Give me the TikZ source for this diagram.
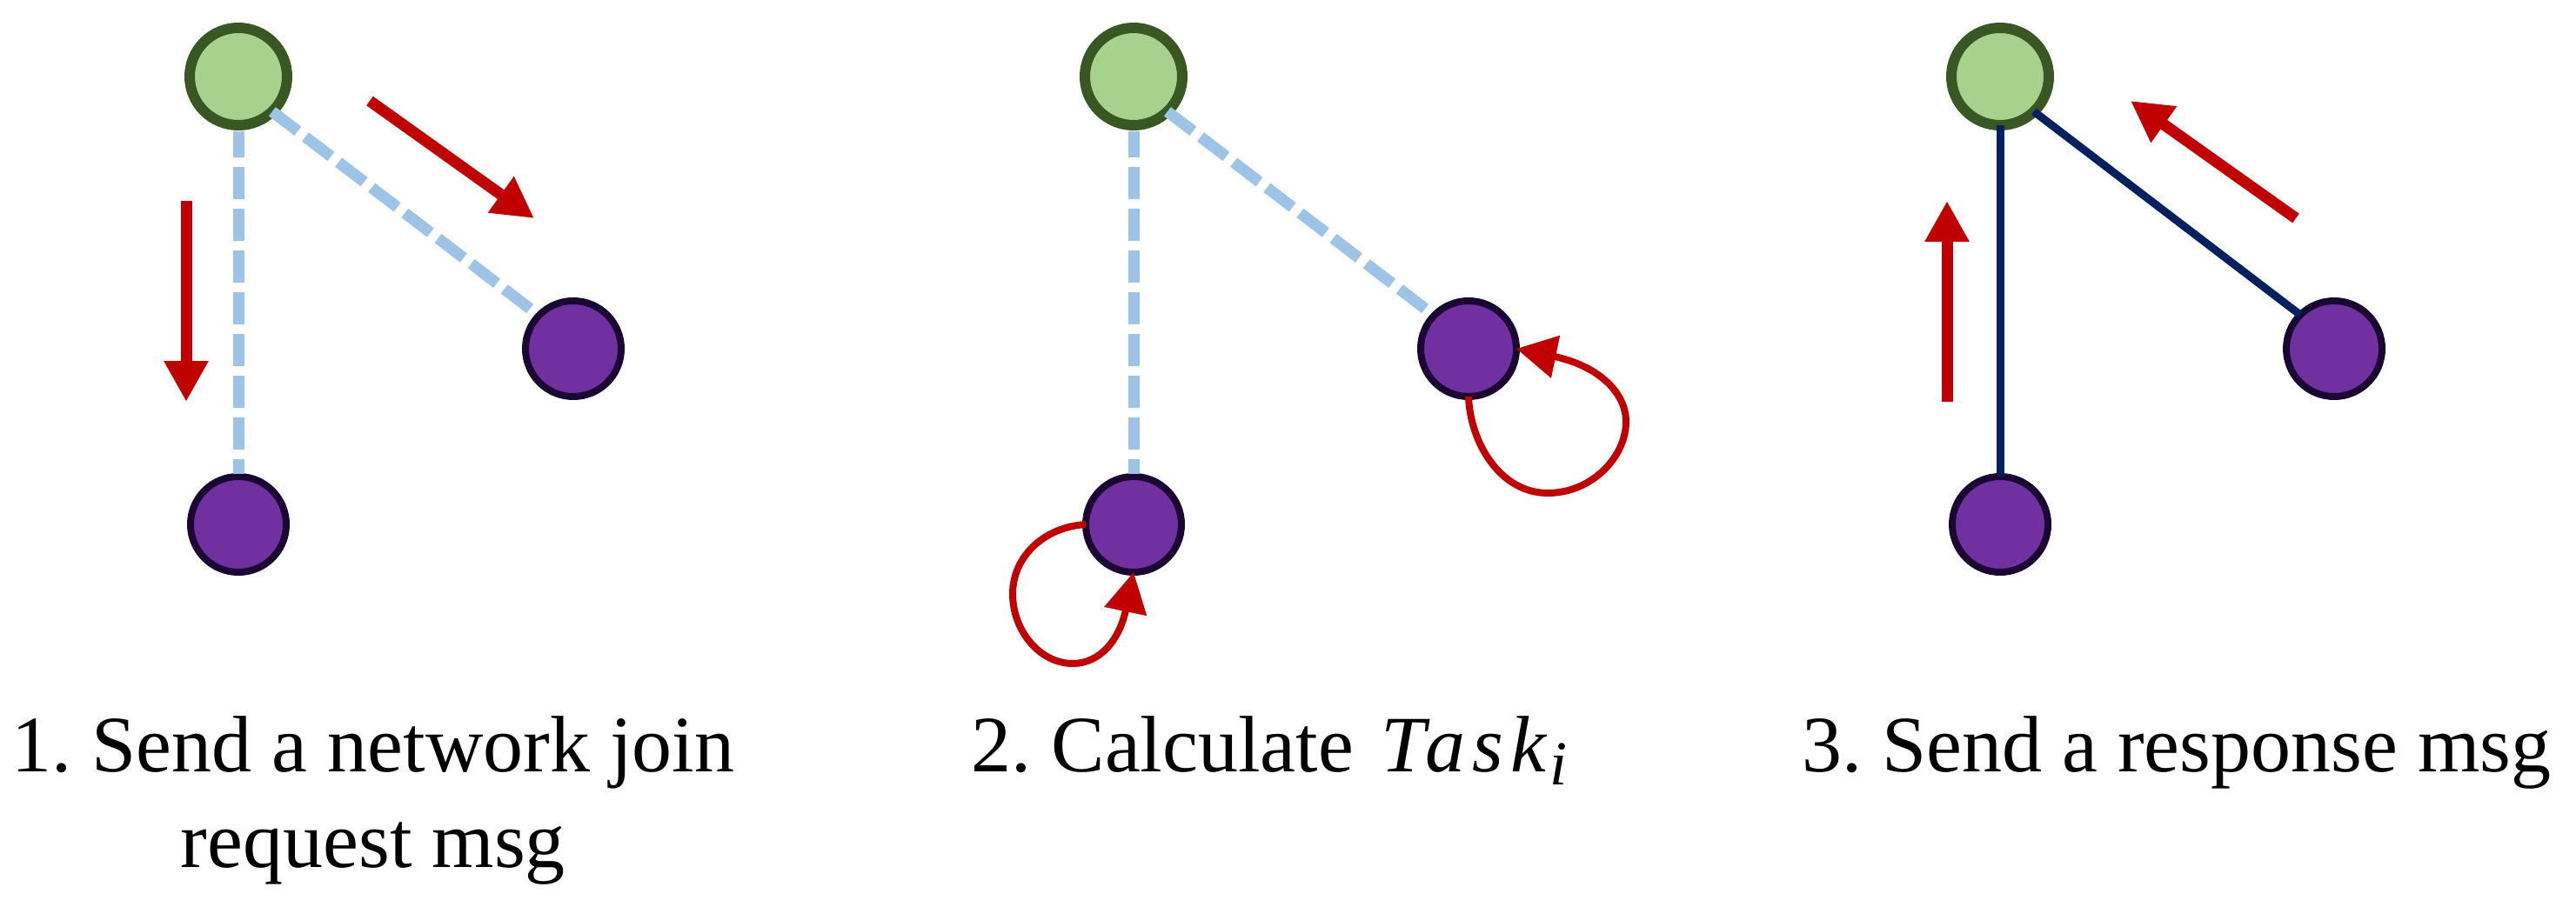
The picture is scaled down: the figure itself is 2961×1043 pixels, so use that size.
\documentclass[tikz,border=0pt]{standalone}
\usepackage{fontspec}
\setmainfont{Liberation Serif}
\usetikzlibrary{arrows.meta}
\definecolor{gfill}{HTML}{A9D18E}
\definecolor{gline}{HTML}{385723}
\definecolor{pfill}{HTML}{7030A0}
\definecolor{pline}{HTML}{1B0533}
\definecolor{dashc}{HTML}{9DC3E6}
\definecolor{redc}{HTML}{C00000}
\definecolor{navyc}{HTML}{002060}
\tikzset{
  master/.style={circle,draw=gline,fill=gfill,line width=6pt,minimum size=56pt,inner sep=0pt,outer sep=0pt},
  worker/.style={circle,draw=pline,fill=pfill,line width=4pt,minimum size=55pt,inner sep=0pt,outer sep=0pt},
  dashv/.style={draw=dashc,line width=6.5pt,dash pattern=on 18.5pt off 5.5pt,dash phase=3.5pt,shorten <=3.5pt,shorten >=1.5pt},
  dashd/.style={draw=dashc,line width=6.5pt,dash pattern=on 18.5pt off 5.5pt,shorten >=5pt},
  solidl/.style={draw=navyc,line width=4.5pt},
  flow/.style={draw=redc,line width=6.5pt,-{Triangle[width=24pt,length=23.5pt]}},
  loopa/.style={draw=redc,line width=4pt,-{Triangle[width=24pt,length=23pt]}},
  captext/.style={font=\fontsize{46}{55}\selectfont\frenchspacing,inner sep=0pt,outer sep=0pt,anchor=base,align=center}
}
\begin{document}
\begin{tikzpicture}[x=0.5pt,y=-0.5pt]
\useasboundingbox[fill=white] (0,0) rectangle (2961,1043);
% panel 1
\node[master] (g1) at (274,88) {};
\node[worker] (b1) at (274,603) {};
\node[worker] (r1) at (659,401) {};
\draw[dashv] (g1.south) -- (b1.north);
\draw[dashd] (g1.-46) -- (r1.136);
\coordinate (a1s) at (214,231); \coordinate (a1e) at (214,462);
\coordinate (a2s) at (425,116); \coordinate (a2e) at (614,251);
\draw[flow] (a1s) -- (a1e);
\draw[flow] (a2s) -- (a2e);
% panel 2
\node[master] (g2) at (1303,88) {};
\node[worker] (b2) at (1303,603) {};
\node[worker] (r2) at (1688,401) {};
\draw[dashv] (g2.south) -- (b2.north);
\draw[dashd] (g2.-46) -- (r2.136);
\draw[loopa] (b2.west) .. controls (1200,606) and (1164,640) .. (1164,683)
  .. controls (1164,725) and (1195,763) .. (1233,763)
  .. controls (1265,763) and (1287,735) .. (b2.south);
\draw[loopa] (r2.south) .. controls (1690,510) and (1725,567) .. (1779,567)
  .. controls (1830,567) and (1869,525) .. (1869,485)
  .. controls (1869,450) and (1835,420) .. (r2.east);
% panel 3
\node[master] (g3) at (2299,88) {};
\node[worker] (b3) at (2299,603) {};
\node[worker] (r3) at (2683,401) {};
\draw[solidl] (g3.south) -- (b3.north);
\draw[solidl] (g3.-46) -- (r3.135);
\coordinate (a3s) at (2238,462); \coordinate (a3e) at (2238,231);
\coordinate (a4s) at (2639,251); \coordinate (a4e) at (2449,116);
\draw[flow] (a3s) -- (a3e);
\draw[flow] (a4s) -- (a4e);
% captions
\node[captext] (c1) at (429,997) {1. Send a network join\\request msg};
\node[captext] (c2) at (1459,887) {2. Calculate\hspace{4pt} {\itshape\addfontfeatures{LetterSpace=9}Task}\hspace{2pt}\raisebox{-7.5pt}{\fontsize{36}{36}\selectfont\itshape i}};
\node[captext] (c3) at (2502,887) {3. Send a response msg};
\end{tikzpicture}
\end{document}
